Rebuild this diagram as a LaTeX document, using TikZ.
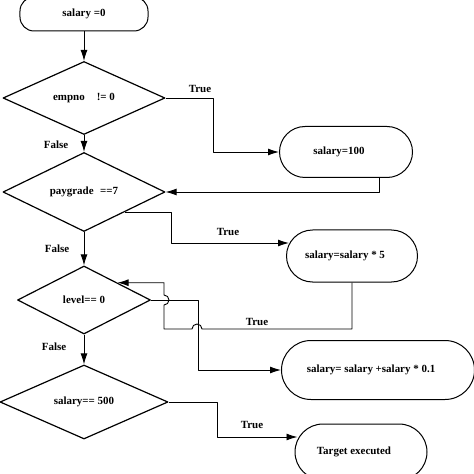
\documentclass[tikz,border=0pt]{standalone}
\usepackage{fontspec}
\setmainfont{Liberation Serif}
\usetikzlibrary{shapes.geometric,shapes.misc,arrows.meta}
\begin{document}
\begin{tikzpicture}[x=1bp,y=-1bp,line join=round,line width=0.9bp,
  >={Latex[length=11bp,width=7bp]},
  font=\fontsize{11}{13}\selectfont\bfseries,
  dec/.style={draw,diamond,aspect=2.2,inner sep=0pt,line width=1.2bp},
  term/.style={draw,rounded rectangle,inner sep=0pt,line width=1bp,execute at begin node={\hspace*{-14bp}}},
  lbl/.style={inner sep=0pt}]
\useasboundingbox (0,0) rectangle (474,474);

\node[draw,rounded corners=14bp,minimum width=128bp,minimum height=34bp,line width=1bp] (s0) at (84,14) {salary =0};
\node[dec,minimum width=162bp,minimum height=73bp] (d1) at (84,98) {empno\hspace{1.1em}!= 0};
\node[dec,minimum width=162bp,minimum height=79bp] (d2) at (84,192) {paygrade\hspace{0.6em}==7};
\node[dec,minimum width=133bp,minimum height=68bp] (d3) at (84,300) {level== 0};
\node[dec,minimum width=168bp,minimum height=74bp] (d4) at (84,402) {salary== 500};

\node[term,minimum width=133bp,minimum height=51bp] (s100) at (346,152) {salary=100};
\node[term,minimum width=131bp,minimum height=52bp] (s5) at (352,256) {salary=salary * 5};
\node[term,minimum width=193bp,minimum height=59bp] (s01) at (378,370) {salary= salary +salary * 0.1};
\node[term,minimum width=132bp,minimum height=56bp] (tgt) at (361,452) {Target executed};

\node[lbl] (t1) at (200,89) {True};
\node[lbl] (t2) at (228,232) {True};
\node[lbl] (t3) at (257,322) {True};
\node[lbl] (t4) at (252,425) {True};
\node[lbl] (f1) at (56,145) {False};
\node[lbl] (f2) at (57,249) {False};
\node[lbl] (f3) at (54,347) {False};

\draw[->] (s0) -- (d1);
\draw[->] (d1) -- (d2);
\draw[->] (d2) -- (d3);
\draw[->] (d3) -- (d4);
\draw[->] (d1.east) -- ++(48,0) |- (s100.west);
\draw[->] ([xshift=33bp]s100.south) |- (d2.east);
\draw[->] (d2.south east) -- ++(47,0) |- ([xshift=3bp,yshift=13bp]s5.west);
% loop back from salary*5, with jumps over the crossing lines
\draw[->] (s5.south) |- (202,329) arc[start angle=0,end angle=-180,radius=5] -- (164,329) -- (164,305) arc[start angle=90,end angle=-90,radius=5] |- (d3.north east);
\draw[->] (d3.east) -- ++(47,0) |- (s01.west);
\draw[->] (d4.east) -- ++(49,0) |- ([xshift=3bp,yshift=15bp]tgt.west);
\end{tikzpicture}
\end{document}
